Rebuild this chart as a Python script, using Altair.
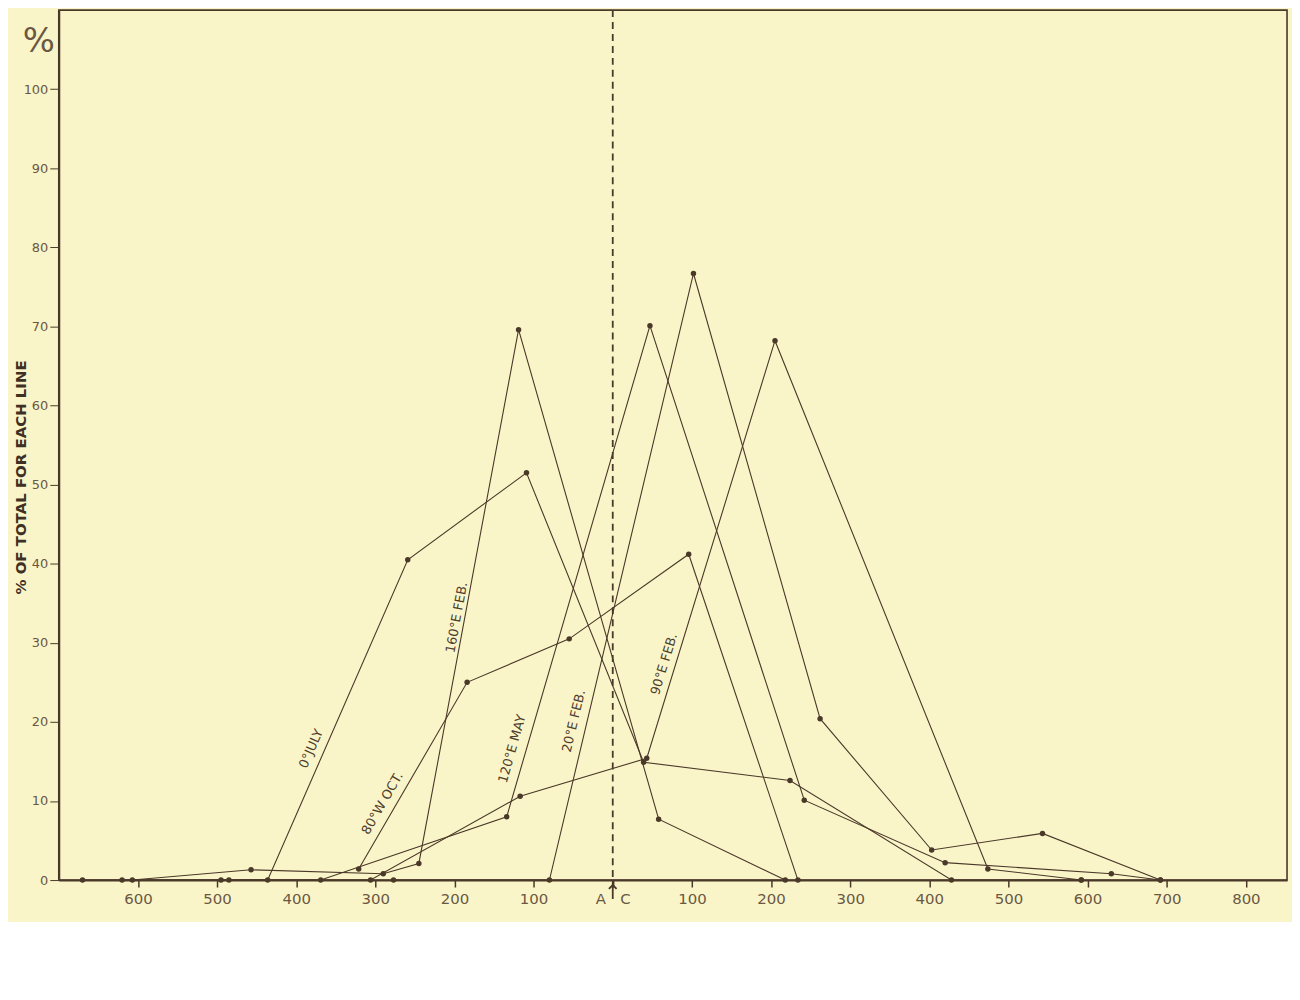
import altair as alt
import pandas as pd

# ---- data (distance from A.C. in miles: negative = left side) ----
series_names = ["0°JULY", "80°W OCT.", "160°E FEB.", "120°E MAY", "20°E FEB.", "90°E FEB."]

july_0_dist = [-670, -495, -436, -259, -109, 39, 224, 428, 592]
july_0_pct = [0, 0, 0, 40.5, 51.5, 14.9, 12.6, 0, 0]

oct_80w_dist = [-321, -184, -55, 96, 234]
oct_80w_pct = [1.4, 25.0, 30.5, 41.2, 0]

feb_160e_dist = [-607, -457, -290, -245, -119, 58, 218]
feb_160e_pct = [0, 1.3, 0.8, 2.1, 69.6, 7.7, 0]

may_120e_dist = [-485, -369, -134, 47, 242, 420, 630, 692]
may_120e_pct = [0, 0, 8.0, 70.1, 10.1, 2.2, 0.8, 0]

feb_20e_dist = [-277, -80, 102, 262, 403, 543, 692]
feb_20e_pct = [0, 0, 76.7, 20.4, 3.8, 5.9, 0]

feb_90e_dist = [-620, -306, -117, 43, 205, 474, 592]
feb_90e_pct = [0, 0, 10.6, 15.4, 68.2, 1.4, 0]

x_tick_values = [-600, -500, -400, -300, -200, -100, 0, 100, 200, 300, 400, 500, 600, 700, 800]
y_tick_values = [0, 10, 20, 30, 40, 50, 60, 70, 80, 90, 100]

label_text = ["0°JULY", "80°W OCT.", "160°E FEB.", "120°E MAY", "20°E FEB.", "90°E FEB."]
label_dist = [-381, -291, -197, -127, -49, 65]
label_pct = [16.6, 9.7, 33.2, 16.6, 20.1, 27.3]
label_angle = [294, 300, 280.5, 286, 283.5, 287]

# ---- build tables ----
all_dist = [july_0_dist, oct_80w_dist, feb_160e_dist, may_120e_dist, feb_20e_dist, feb_90e_dist]
all_pct = [july_0_pct, oct_80w_pct, feb_160e_pct, may_120e_pct, feb_20e_pct, feb_90e_pct]
rows = []
for name, ds, ps in zip(series_names, all_dist, all_pct):
    for i, (d, p) in enumerate(zip(ds, ps)):
        rows.append({"series": name, "dist": d, "pct": p, "order": i})
df = pd.DataFrame(rows)

labels_df = pd.DataFrame({"text": label_text, "dist": label_dist, "pct": label_pct, "angle": label_angle})

BG = "#FAF5C9"
INK = "#4a3828"
TXT = "#6a5843"
NB = "\u00a0"

x_scale = alt.Scale(domain=[-700, 852], nice=False, zero=False)
y_scale = alt.Scale(domain=[0, 110], nice=False)

x_enc = alt.X(
    "dist:Q",
    scale=x_scale,
    axis=alt.Axis(
        values=x_tick_values,
        labelExpr="datum.value == 0 ? 'A" + NB * 3 + "C' : '' + abs(datum.value)",
        title=None,
        grid=False,
        tickSize=7,
        tickColor=INK,
        domainColor=INK,
        domainWidth=2,
        tickWidth=1.5,
        labelFontSize=15,
        labelColor=TXT,
        labelPadding=5,
        labelFont="DejaVu Sans",
    ),
)
y_enc = alt.Y(
    "pct:Q",
    scale=y_scale,
    axis=alt.Axis(
        values=y_tick_values,
        title="% OF TOTAL FOR EACH LINE",
        titleFontSize=15,
        titleFontWeight="bold",
        titleColor="#3e3024",
        titleFont="DejaVu Sans",
        titleAngle=270,
        titleX=-38,
        titleY=469,
        titleAlign="center",
        titleBaseline="middle",
        grid=False,
        tickSize=9,
        tickColor=INK,
        domainColor=INK,
        domainWidth=2,
        labelFontSize=13,
        labelColor=TXT,
        labelPadding=2,
        labelFont="DejaVu Sans",
    ),
)

base = alt.Chart(df)
lines = base.mark_line(color=INK, strokeWidth=1.1).encode(
    x=x_enc, y=y_enc, detail="series:N", order="order:Q"
)
points = base.mark_circle(size=30, color=INK, opacity=1).encode(x="dist:Q", y="pct:Q")

ac_df = pd.DataFrame({"dist": [0]})
ac_rule = alt.Chart(ac_df).mark_rule(color=INK, strokeWidth=1.8, strokeDash=[7, 5]).encode(x="dist:Q")
ac_shaft = alt.Chart(ac_df).mark_rule(color=INK, strokeWidth=1.8).encode(
    x="dist:Q", y=alt.value(875), y2=alt.value(893)
)
ac_head = alt.Chart(ac_df).mark_point(
    shape="M-1,1L0,0L1,1", filled=False, size=60, color=INK, strokeWidth=1.8, opacity=1
).encode(x="dist:Q", y=alt.value(879))

pct_df = pd.DataFrame({"t": ["%"]})
pct_sign = alt.Chart(pct_df).mark_text(
    fontSize=34, color=TXT, font="DejaVu Sans", fontWeight="normal"
).encode(text="t:N", x=alt.value(-20), y=alt.value(32))

texts = alt.Chart(labels_df).mark_text(
    fontSize=13, color="#4e3d2c", font="DejaVu Sans", align="center", baseline="middle"
).encode(
    x="dist:Q", y="pct:Q", text="text:N", angle=alt.Angle("angle:Q", scale=None)
)

chart = (
    alt.layer(ac_rule, lines, points, texts, ac_shaft, ac_head, pct_sign)
    .properties(
        width=1234,
        height=874,
        autosize=alt.AutoSizeParams(type="none"),
        padding={"left": 51, "top": 0, "right": 5, "bottom": 40},
        background=BG,
    )
    .configure_view(stroke=INK, strokeWidth=1.6)
)

chart.save("out.html", embed_options={"renderer": "svg", "actions": False})
